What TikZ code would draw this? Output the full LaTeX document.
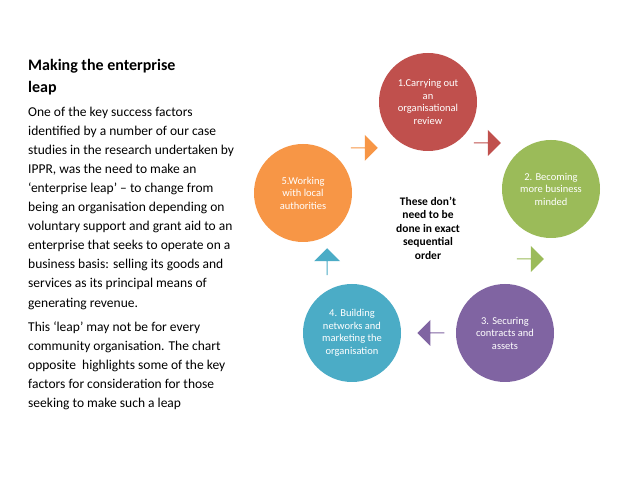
\documentclass[tikz,border=0pt]{standalone}
\usepackage{fontspec}
\setmainfont{Carlito}
\usetikzlibrary{shapes.arrows}
\definecolor{cA}{HTML}{C0504D}\definecolor{cB}{HTML}{9BBB59}\definecolor{cC}{HTML}{8064A2}
\definecolor{cD}{HTML}{4BACC6}\definecolor{cE}{HTML}{F79646}
\tikzset{x=1pt,y=-1pt,
 stage/.style={circle,fill=#1,minimum size=98pt,inner sep=0pt,text=white,align=center,font=\fontsize{10.5}{12.5}\selectfont},
 barrow/.style={single arrow,fill=#1,minimum height=27pt,minimum width=26pt,single arrow head extend=5pt,inner sep=0pt},
 body/.style={anchor=base west,inner sep=0pt,font=\fontsize{13.5}{16}\selectfont}}
\begin{document}
\begin{tikzpicture}
\useasboundingbox[fill=white] (0,0) rectangle (638,478);
\node[body,font=\bfseries\fontsize{16}{18}\selectfont] (t1) at (28,71) {Making the enterprise};
\node[body,font=\bfseries\fontsize{16}{18}\selectfont] (t2) at (28,93) {leap};
\foreach \i/\y/\s in {1/117/{One of the key success factors},2/136/{identified by a number of our case},3/155/{studies in the research undertaken by},4/174/{IPPR, was the need to make an},5/193/{‘enterprise leap’ – to change from},6/212/{being an organisation depending on},7/231/{voluntary support and grant aid to an},8/250/{enterprise that seeks to operate on a},9/269/{business basis: selling its goods and},10/288/{services as its principal means of},11/308/{generating revenue.},12/332/{This ‘leap’ may not be for every},13/351/{community organisation. The chart},14/370/{opposite \ highlights some of the key},15/389/{factors for consideration for those},16/408/{seeking to make such a leap}}
  \node[body] (b\i) at (28,\y) {\s};
\node[stage=cA] (s1) at (428,102) {1.Carrying out\\an\\organisational\\review};
\node[stage=cB] (s2) at (551,189) {2. Becoming\\more business\\minded};
\node[stage=cC] (s3) at (505,333) {3. Securing\\contracts and\\assets};
\node[stage=cD] (s4) at (352,333) {4. Building\\networks and\\marketing the\\organisation};
\node[stage=cE] (s5) at (303,193) {5.Working\\with local\\authorities};
\node[align=center,font=\bfseries\fontsize{11.5}{13.5}\selectfont] (c) at (428,228) {These don’t\\need to be\\done in exact\\sequential\\order};
\node[barrow=cA,shape border rotate=-40] (a1) at (487,143) {};
\node[barrow=cB,shape border rotate=-80] (a2) at (530,259) {};
\node[barrow=cC,shape border rotate=180] (a3) at (431,333) {};
\node[barrow=cD,shape border rotate=100] (a4) at (327,262) {};
\node[barrow=cE,shape border rotate=40] (a5) at (364,148) {};
\end{tikzpicture}
\end{document}
